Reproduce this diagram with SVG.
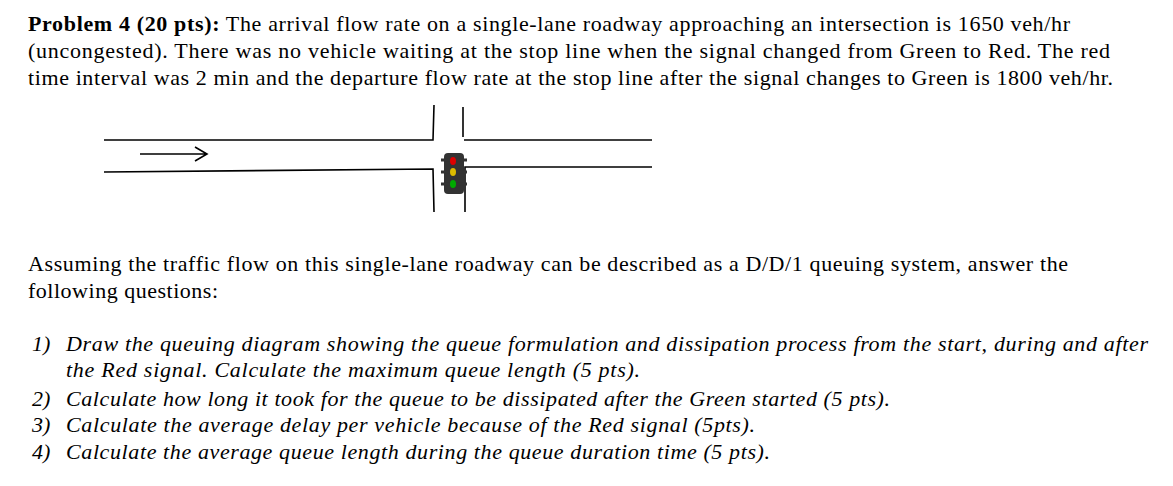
<svg xmlns="http://www.w3.org/2000/svg" width="1173" height="486" viewBox="0 0 1173 486">
<style>
text{font-family:"Liberation Serif",serif;font-size:22px;fill:#000}
.i{font-style:italic}
.r{stroke:#000;stroke-width:1.6;fill:none}
</style>
<rect width="1173" height="486" fill="#fff"/>
<g id="text">
<text x="28" y="31" textLength="1042" lengthAdjust="spacing"><tspan font-weight="bold">Problem 4 (20 pts):</tspan> The arrival flow rate on a single-lane roadway approaching an intersection is 1650 veh/hr</text>
<text x="28" y="58" textLength="1082" lengthAdjust="spacing">(uncongested).  There was no vehicle waiting at the stop line when the signal changed from Green to Red.  The red</text>
<text x="28" y="85" textLength="1085" lengthAdjust="spacing">time interval was 2 min and the departure flow rate at the stop line after the signal changes to Green is 1800 veh/hr.</text>
<text x="28" y="271" textLength="1040" lengthAdjust="spacing">Assuming the traffic flow on this single-lane roadway can be described as a D/D/1 queuing system, answer the</text>
<text x="28" y="298" textLength="190" lengthAdjust="spacing">following questions:</text>
<text class="i" x="32" y="351">1)</text>
<text class="i" x="66" y="351" textLength="1082" lengthAdjust="spacing">Draw the queuing diagram showing the queue formulation and dissipation process from the start, during and after</text>
<text class="i" x="66" y="377" textLength="574" lengthAdjust="spacing">the Red signal.  Calculate the maximum queue length (5 pts).</text>
<text class="i" x="32" y="406">2)</text>
<text class="i" x="66" y="406" textLength="824" lengthAdjust="spacing">Calculate how long it took for the queue to be dissipated after the Green started (5 pts).</text>
<text class="i" x="32" y="432">3)</text>
<text class="i" x="66" y="432" textLength="689" lengthAdjust="spacing">Calculate the average delay per vehicle because of the Red signal (5pts).</text>
<text class="i" x="32" y="459">4)</text>
<text class="i" x="66" y="459" textLength="704" lengthAdjust="spacing">Calculate the average queue length during the queue duration time (5 pts).</text>
</g>
<g id="road">
<path class="r" d="M104 140 L433 140 L434 105"/>
<path class="r" d="M104 172 L433 169 L434 212"/>
<path class="r" d="M463 107 L463 137"/>
<path class="r" d="M464 140 L652 140"/>
<path class="r" d="M465 212 L465 167 L652 167"/>
</g>
<g id="connectors">
<path class="r" d="M140 154 L207 154 M195 147 L207 154 L195 161"/>
</g>
<g id="signal">
<rect x="444" y="153" width="20" height="41" rx="4" fill="#333"/>
<path d="M441 160 h26 M441 172 h26 M441 184 h26" stroke="#333" stroke-width="3"/>
<ellipse cx="453" cy="161" rx="3" ry="4" fill="#d00"/>
<ellipse cx="453" cy="172" rx="3" ry="4" fill="#db0"/>
<ellipse cx="453" cy="184" rx="3" ry="4" fill="#0a0"/>
</g>
</svg>
